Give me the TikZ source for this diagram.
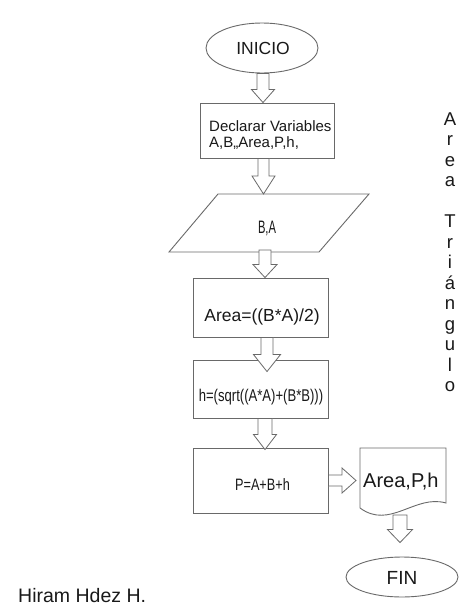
\documentclass[tikz,border=0pt]{standalone}
\usepackage{fontspec}
\setmainfont{Liberation Sans}
\usepackage{graphicx}
\usetikzlibrary{calc,shapes.geometric}
\definecolor{ln}{RGB}{105,105,105}
\definecolor{tx}{RGB}{25,25,25}
\newcommand\fsz[1]{\fontsize{#1}{#1}\selectfont}
\tikzset{
  shp/.style={draw=ln, line width=0.9pt, fill=white},
  boxr/.style={shp, rectangle, inner sep=0pt},
  ell/.style={shp, ellipse, inner sep=0pt},
  blk/.style={draw=ln, line width=0.8pt, fill=white, line join=miter},
  lbl/.style={text=tx, inner sep=0pt},
}
% down block arrow: from, to, shaft half width, head half width, head length
\newcommand\dblk[5]{\draw[blk] let \p1=(#1), \p2=(#2) in
  (\x1-#3pt,\y1) -- (\x1+#3pt,\y1) -- (\x1+#3pt,\y2+#5pt) -- (\x1+#4pt,\y2+#5pt)
  -- (\x1,\y2) -- (\x1-#4pt,\y2+#5pt) -- (\x1-#3pt,\y2+#5pt) -- cycle;}
% right block arrow
\newcommand\rblk[5]{\draw[blk] let \p1=(#1), \p2=(#2) in
  (\x1,\y1+#3pt) -- (\x2-#5pt,\y1+#3pt) -- (\x2-#5pt,\y1+#4pt) -- (\x2,\y1)
  -- (\x2-#5pt,\y1-#4pt) -- (\x2-#5pt,\y1-#3pt) -- (\x1,\y1-#3pt) -- cycle;}
\begin{document}
\begin{tikzpicture}[x=1pt,y=-1pt]
\fill[white] (0,0) rectangle (474,613);
\useasboundingbox (0,0) rectangle (474,613);

% INICIO
\node[ell, minimum width=112, minimum height=50] (ini) at (262,48) {};
\node[lbl, anchor=base, font=\fsz{17.5}] (init) at (263,54) {INICIO};

% Declarar variables
\node[boxr, minimum width=134, minimum height=55] (decl) at (267,130.5) {};
\node[lbl, anchor=base west, font=\fsz{15}] (d1) at (209,131) {Declarar Variables};
\node[lbl, anchor=base west, font=\fsz{15}] (d2) at (209,147) {A,B,,Area,P,h,};

% parallelogram B,A
\coordinate (pa1) at (169,252);
\coordinate (pa2) at (319,252);
\coordinate (pa3) at (369,194);
\coordinate (pa4) at (218,194);
\draw[shp] (pa1) -- (pa2) -- (pa3) -- (pa4) -- cycle;
\coordinate (partop) at (263.5,194);
\coordinate (parbot) at (265,250);
\node[lbl, anchor=base, font=\fsz{18}] (ba) at (267,233) {\scalebox{0.62}[1]{B,A}};

% Area box
\node[boxr, minimum width=135, minimum height=59] (area) at (260.5,307.5) {};
\node[lbl, anchor=base, font=\fsz{17.5}] (areat) at (262,321) {Area=((B*A)/2)};

% h box
\node[boxr, minimum width=135, minimum height=58] (hbox) at (260.5,389) {};
\node[lbl, anchor=base, font=\fsz{17}] (ht) at (261,401) {\scalebox{0.77}[1]{h=(sqrt((A*A)+(B*B)))}};

% P box
\node[boxr, minimum width=135, minimum height=65] (pbox) at (260.5,480.5) {};
\node[lbl, anchor=base, font=\fsz{16.5}] (pt) at (262.5,490) {\scalebox{0.77}[1]{P=A+B+h}};

% document output
\coordinate (dc1) at (360,448);
\coordinate (dc2) at (446,448);
\coordinate (dc3) at (446,503);
\coordinate (dc4) at (360,508);
\draw[shp] (dc4) -- (dc1) -- (dc2) -- (dc3) .. controls (415,494) and (390,530) .. (dc4);
\coordinate (docin) at (356,480.5);
\coordinate (docout) at (400,515);
\node[lbl, anchor=base west, font=\fsz{20}] (apht) at (363,487) {Area,P,h};

% FIN
\node[ell, minimum width=112, minimum height=40] (fin) at (402,577) {};
\node[lbl, anchor=base, font=\fsz{19}] (fint) at (402,584) {FIN};

% block arrows
\dblk{[xshift=1pt]ini.south}{decl.north}{6}{11.5}{13}
\dblk{[xshift=-3.5pt]decl.south}{partop}{5.5}{11.5}{18}
\dblk{parbot}{area.north}{6}{12}{13}
\dblk{[xshift=6.5pt]area.south}{[yshift=-12pt]hbox.north}{6}{13.5}{17}
\dblk{[xshift=4.5pt]hbox.south}{[yshift=-2pt]pbox.north}{7}{11.5}{15}
\rblk{pbox.east}{docin}{5.5}{12.5}{14}
\dblk{docout}{[yshift=14pt]fin.north}{7}{12.5}{13}

% vertical title
\foreach \c [count=\i] in {A,r,e,a,{},T,r,i,á,n,g,u,l,o}
  \node[lbl, anchor=base, font=\fsz{18.5}] (v\i) at (450,{125+20.5*(\i-1)}) {\c};

% author
\node[lbl, anchor=base west, font=\fsz{19.5}] (auth) at (18,602) {Hiram Hdez H.};
\end{tikzpicture}
\end{document}
